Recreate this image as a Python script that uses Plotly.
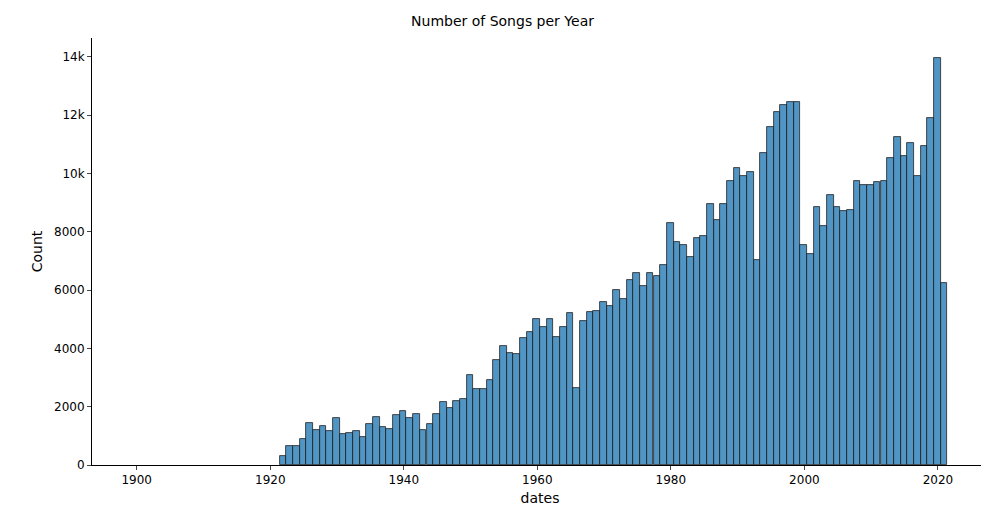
import plotly.graph_objects as go

years = list(range(1922, 2022))
counts = [300,650,650,900,1450,1200,1350,1150,1600,1050,
          1100,1150,950,1400,1650,1300,1250,1700,1850,1600,
          1750,1200,1400,1750,2150,1950,2200,2250,3100,2600,
          2600,2900,3600,4100,3850,3800,4350,4550,5000,4750,
          5000,4400,4750,5200,2650,4950,5250,5300,5600,5450,
          6000,5700,6350,6600,6150,6600,6500,6850,8300,7650,
          7550,7150,7800,7850,8950,8400,8950,9750,10200,9900,
          10050,7050,10700,11600,12100,12350,12450,12450,7550,7250,
          8850,8200,9250,8850,8700,8750,9750,9600,9600,9700,
          9750,10550,11250,10600,11050,9900,10950,11900,13950,6250]

bin_offset = -0.1
fig = go.Figure(go.Bar(
    x=[y + bin_offset for y in years], y=counts, width=0.996,
    marker=dict(color="rgba(31,119,180,0.78)", line=dict(color="#222222", width=0.8)),
))
fig.update_layout(
    width=989, height=510, margin=dict(l=84, r=9, t=30, b=53),
    plot_bgcolor="white", paper_bgcolor="white", bargap=0,
    font=dict(family="DejaVu Sans", size=12, color="black"),
    title=dict(text="Number of Songs per Year", x=0.5, xanchor="center", y=0.975, yanchor="middle",
               font=dict(size=14)),
    showlegend=False,
)
fig.update_xaxes(range=[1893.3, 2027.5], tickvals=[1900, 1920, 1940, 1960, 1980, 2000, 2020],
                 showgrid=False, zeroline=False, showline=True, linecolor="black", linewidth=1,
                 ticks="outside", ticklen=4, title=dict(text="dates", standoff=6))
fig.update_yaxes(range=[0, 14650], tickvals=list(range(0, 14001, 2000)),
                 showgrid=False, zeroline=False, showline=True, linecolor="black", linewidth=1,
                 ticks="outside", ticklen=4, title=dict(text="Count", standoff=8))
fig.write_html("out.html")
